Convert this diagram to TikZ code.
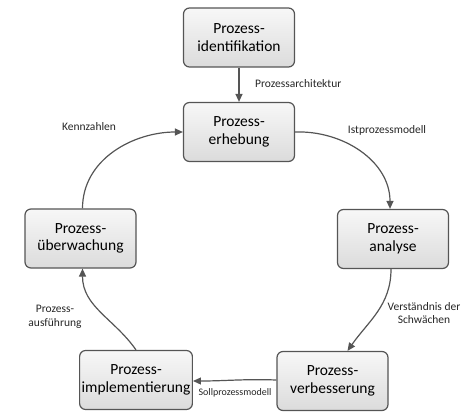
\documentclass[tikz,border=0pt]{standalone}
\usepackage{fontspec}
\setmainfont{Carlito}
\usetikzlibrary{arrows.meta}
\definecolor{edge}{HTML}{555555}
\tikzset{
  procbox/.style={draw=edge, line width=1.2pt, rounded corners=6pt,
    top color=white!97!black, bottom color=white!86!black,
    minimum width=111pt, minimum height=59pt, align=center,
    font=\fontsize{15.5}{17.5}\selectfont, inner sep=2pt},
  flow/.style={draw=edge, line width=1.2pt, -{Triangle[length=8pt,width=7pt]}},
  lbl/.style={font=\fontsize{11.5}{13.5}\selectfont, text=black!85, align=center, inner sep=1pt},
  smalllbl/.style={lbl, font=\fontsize{10}{12}\selectfont}
}
\begin{document}
\begin{tikzpicture}[x=1pt,y=-1pt]
\useasboundingbox (0,0) rectangle (474,420);
\node[procbox] (ident) at (239,37.5) {Prozess-\\identifikation};
\node[procbox] (erheb) at (239,132) {Prozess-\\erhebung};
\node[procbox] (uberw) at (80.5,238.5) {Prozess-\\überwachung};
\node[procbox] (impl) at (136,380) {Prozess-\\implementierung};
\node[procbox] (anal) at (393,239) {Prozess-\\analyse};
\node[procbox] (verb) at (332.5,381) {Prozess-\\verbesserung};

\draw[flow] (ident) -- (erheb);
\draw[flow] (erheb.east) to[out=2,in=90] ([xshift=-3pt]anal.north);
\draw[flow] ([xshift=-2pt]anal.south) to[out=-90,in=55] ([xshift=15pt]verb.north);
\draw[flow] ([yshift=1pt]verb.west) to[out=178,in=0] ([yshift=-1pt]impl.east);
\draw[flow] (impl.north) to[out=125,in=-90] ([xshift=2pt]uberw.south);
\draw[flow] ([xshift=2pt]uberw.north) to[out=90,in=180] (erheb.west);

\node[lbl, anchor=west] (l1) at (254,84) {Prozessarchitektur};
\node[lbl] (l2) at (387,130) {Istprozessmodell};
\node[lbl] (l3) at (89,127) {Kennzahlen};
\node[lbl] (l4) at (424,313) {Verständnis der\\Schwächen};
\node[smalllbl] (l5) at (235,393) {Sollprozessmodell};
\node[lbl] (l6) at (55,317) {Prozess-\\ausführung};
\end{tikzpicture}
\end{document}
